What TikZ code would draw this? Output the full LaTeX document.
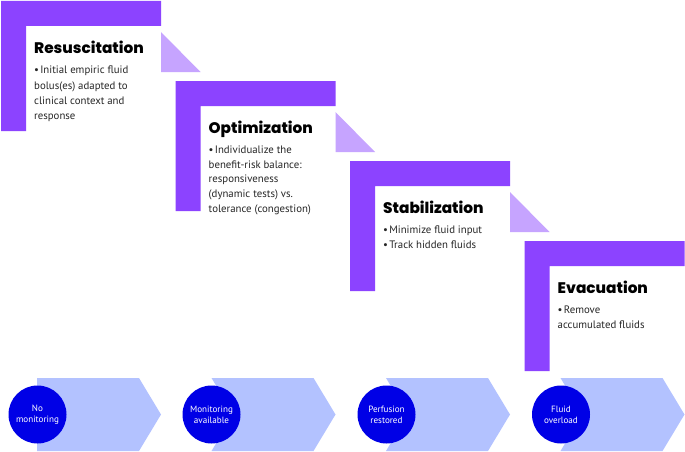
\documentclass[tikz,border=0pt]{standalone}
\usepackage{fontspec}
\setmainfont{PT Sans}
\newfontfamily\titlefont[UprightFont=* ExtraBold]{Poppins}
\newcommand{\bul}{•\kern-1.6pt\ }
\definecolor{barpurple}{HTML}{8C43FF}
\definecolor{tripurple}{HTML}{C6A4FF}
\definecolor{chevblue}{HTML}{B3C2FF}
\definecolor{discblue}{HTML}{0000E6}
\tikzset{
  bar/.style={fill=barpurple,draw=none},
  tri/.style={fill=tripurple,draw=none},
  chev/.style={fill=chevblue,draw=none},
  disc/.style={circle,fill=discblue,draw=none,minimum size=58pt,inner sep=0pt,text=white,align=center,font=\fontsize{9.1}{10.8}\selectfont},
  title/.style={anchor=base west,inner sep=0pt,font=\titlefont\fontsize{15.3}{18}\selectfont,text=black},
  body/.style={anchor=north west,inner sep=0pt,align=left,font=\fontsize{10.8}{15.3}\selectfont,text=black!85},
  bodytight/.style={body,font=\fontsize{10.8}{14.7}\selectfont}
}
\begin{document}
\begin{tikzpicture}[x=1pt,y=-1pt]
\useasboundingbox (0,0) rectangle (685,452);
\fill[white] (0,0) rectangle (685,452);
% L bars and triangles
\foreach \dx/\dy in {0/0,174.5/80,349/160,523.5/240}{
  \begin{scope}[shift={(\dx,\dy)}]
    \fill[bar] (1,1) -- (161,1) -- (161,26) -- (26,26) -- (26,131) -- (1,131) -- cycle;
  \end{scope}
}
\foreach \dx/\dy in {0/0,174.5/80,349/160}{
  \begin{scope}[shift={(\dx,\dy)}]
    \fill[tri] (161,32) -- (200.5,72) -- (161,72) -- cycle;
  \end{scope}
}
% chevrons
\fill[chev] (37,378) -- (139,378) -- (161,414.5) -- (139,451) -- (37,451) -- cycle;
\foreach \dx in {174.5,349,523.5}{
  \begin{scope}[shift={(\dx,0)}]
    \fill[chev] (37,378) -- (139,378) -- (161,414.5) -- (139,451) -- (37,451) -- (59,414.5) -- cycle;
  \end{scope}
}
% discs
\node[disc] (d1) at (37.5,414.5) {No\\monitoring};
\node[disc] (d2) at (211.5,414.5) {Monitoring\\available};
\node[disc] (d3) at (386.5,414.5) {Perfusion\\restored};
\node[disc] (d4) at (561,414.5) {Fluid\\overload};
% titles
\node[title] (t1) at (34,53) {Resuscitation};
\node[title] (t2) at (208.5,133) {Optimization};
\node[title] (t3) at (383,213) {Stabilization};
\node[title] (t4) at (557.5,293) {Evacuation};
% bodies
\node[body] (b1) at (34,66) {\bul Initial empiric fluid\\bolus(es) adapted to\\clinical context and\\response};
\node[bodytight] (b2) at (208.5,145.5) {\bul Individualize the\\benefit-risk balance:\\responsiveness\\(dynamic tests) vs.\\tolerance (congestion)};
\node[bodytight] (b3) at (383,226) {\bul Minimize fluid input\\\bul Track hidden fluids};
\node[bodytight] (b4) at (557.5,306) {\bul Remove\\accumulated fluids};
\end{tikzpicture}
\end{document}
